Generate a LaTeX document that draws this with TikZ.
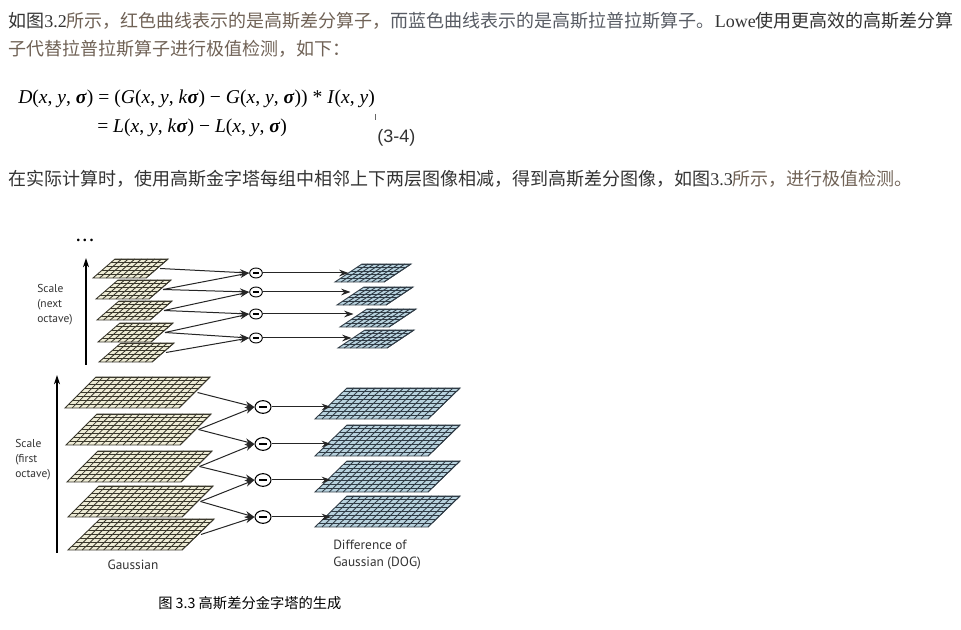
\documentclass[tikz,border=0pt]{standalone}
\usepackage{fontspec}
\setmainfont{Liberation Serif}
\newfontfamily\cjk{Noto Sans CJK SC}
\newfontfamily\lblfont{PT Sans}
\newfontfamily\numfont{Liberation Sans}
\usetikzlibrary{arrows.meta,shapes.geometric}

\definecolor{txtdark}{RGB}{51,51,51}
\definecolor{txtbrown}{RGB}{112,98,86}
\definecolor{txtgray}{RGB}{88,92,100}
\definecolor{gfill}{RGB}{238,236,214}
\definecolor{gline}{RGB}{58,56,44}
\definecolor{dfill}{RGB}{184,210,222}
\definecolor{dline}{RGB}{48,60,70}

\tikzset{
  gauss/.style={fill=gfill,draw=gline,line width=0.65pt},
  dog/.style={fill=dfill,draw=dline,line width=0.65pt},
  conn/.style={-{Stealth[length=7pt,width=5pt]},line width=0.75pt,draw=black!85},
  axisarrow/.style={-{Stealth[length=7pt,width=4.5pt]},line width=0.8pt},
  minusbig/.style={ellipse,draw,line width=0.8pt,fill=white,inner sep=0pt,
    minimum width=12pt,minimum height=9.5pt,
    path picture={\fill[black] ([xshift=-3.3pt,yshift=-1.1pt]path picture bounding box.center)
      rectangle ([xshift=3.3pt,yshift=1.1pt]path picture bounding box.center);}},
  minussmall/.style={ellipse,draw,line width=0.7pt,fill=white,inner sep=0pt,
    minimum width=9.5pt,minimum height=7.5pt,
    path picture={\fill[black] ([xshift=-2.6pt,yshift=-0.9pt]path picture bounding box.center)
      rectangle ([xshift=2.6pt,yshift=0.9pt]path picture bounding box.center);}},
  lbl/.style={font=\lblfont\fontsize{8.6}{11.25}\selectfont,align=left,text=black!80,inner sep=0pt},
  biglbl/.style={font=\lblfont\fontsize{10}{12.75}\selectfont,align=left,text=black!80,inner sep=0pt},
  bodytext/.style={anchor=base west,inner sep=0pt,font=\cjk\fontsize{13.5}{16}\selectfont}
}

% layer: name, x, y (bottom left), width, height, skew, columns, rows, style
\newcommand{\gridlayer}[9]{%
  \filldraw[#9] (#2,#3) -- ++(#4,0) -- ++(#6,-#5) -- ++(-#4,0) -- cycle;
  \foreach \i in {1,...,#7}
    \draw[#9,fill=none] ({#2+#4*\i/#7},#3) -- ++(#6,-#5);
  \foreach \j in {1,...,#8}
    \draw[#9,fill=none] ({#2+#6*\j/#8},{#3-#5*\j/#8}) -- ++(#4,0);
  \coordinate (#1e) at ({#2+#4+#6/2+3},{#3-#5/2});
  \coordinate (#1w) at ({#2+#6/2},{#3-#5/2});
}
\newcommand{\sig}{\textbf{\textit{σ}}}

\begin{document}
\begin{tikzpicture}[x=0.75pt,y=-0.75pt]
  \fill[white] (0,0) rectangle (961,630);
  \useasboundingbox (0,0) rectangle (961,630);

  % texte au-dessus de la figure
  \node[bodytext] (line1) at (8,28)
    {\color{txtdark}如图{\rmfamily 3.2}\color{txtbrown}所示，红色曲线表示的是高斯差分算子，\color{txtgray}而蓝色曲线表示的是高斯拉普拉斯算子。\color{txtdark}{\rmfamily Lowe}使用更高效的高斯差分算};
  \node[bodytext,text=txtbrown] (line2) at (8,56)
    {子代替拉普拉斯算子进行极值检测，如下：};

  \node[anchor=base west,inner sep=0pt,text=black,font=\fontsize{14.7}{17}\selectfont] (eq1) at (18,104)
    {\textit{D}(\textit{x}, \textit{y}, \sig) = (\textit{G}(\textit{x}, \textit{y}, \textit{k}\sig) − \textit{G}(\textit{x}, \textit{y}, \sig)) * \textit{I}(\textit{x}, \textit{y})};
  \node[anchor=base west,inner sep=0pt,text=black,font=\fontsize{14.7}{17}\selectfont] (eq2) at (97,133)
    {= \textit{L}(\textit{x}, \textit{y}, \textit{k}\sig) − \textit{L}(\textit{x}, \textit{y}, \sig)};
  \coordinate (tk1) at (375,114);
  \coordinate (tk2) at (375,120);
  \draw[black!60,line width=0.6pt] (tk1) -- (tk2);
  \node[anchor=base west,inner sep=0pt,text=txtdark,font=\numfont\fontsize{13.5}{16}\selectfont] (eqno) at (377,143) {(3-4)};

  \node[bodytext] (line3) at (8,186)
    {\color{txtdark}在实际计算时，使用高斯金字塔每组中相邻上下两层图像相减，得到高斯差分图像，如图{\rmfamily 3.3}\color{txtbrown}所示，进行极值检测。};

  % octave suivante
  \node[font=\bfseries\fontsize{12}{14}\selectfont] (dots) at (85,240) {.\,.\,.};
  \coordinate (ax2b) at (86,365);
  \coordinate (ax2t) at (86,258);
  \draw[axisarrow] (ax2b) -- (ax2t);
  \node[lbl,anchor=west] (scale2) at (37,305) {Scale\\(next\\octave)};

  \gridlayer{u1}{93}{278}{53}{19}{22}{8}{5}{gauss}
  \gridlayer{u2}{96}{299}{53}{19}{22}{8}{5}{gauss}
  \gridlayer{u3}{97}{320}{53}{19}{22}{8}{5}{gauss}
  \gridlayer{u4}{98}{342}{53}{19}{22}{8}{5}{gauss}
  \gridlayer{u5}{99}{362}{53}{19}{22}{8}{5}{gauss}
  \gridlayer{v1}{335}{282}{49}{18}{27}{8}{5}{dog}
  \gridlayer{v2}{337}{305}{49}{18}{27}{8}{5}{dog}
  \gridlayer{v3}{340}{327}{49}{18}{27}{8}{5}{dog}
  \gridlayer{v4}{338}{348}{49}{18}{27}{8}{5}{dog}

  \node[minussmall] (n1) at (256,273) {};
  \node[minussmall] (n2) at (256,292) {};
  \node[minussmall] (n3) at (256,314) {};
  \node[minussmall] (n4) at (256,338) {};
  \draw[conn] (u1e) -- (n1.west);
  \draw[conn] (u2e) -- (n1.west);
  \draw[conn] (u2e) -- (n2.west);
  \draw[conn] (u3e) -- (n2.west);
  \draw[conn] (u3e) -- (n3.west);
  \draw[conn] (u4e) -- (n3.west);
  \draw[conn] (u4e) -- (n4.west);
  \draw[conn] (u5e) -- (n4.west);
  \foreach \k in {1,...,4}
    \draw[conn] (n\k.east) -- (n\k.east -| v\k w);

  % premiere octave
  \coordinate (ax1b) at (57,553);
  \coordinate (ax1t) at (57,375);
  \draw[axisarrow] (ax1b) -- (ax1t);
  \node[lbl,anchor=west] (scale1) at (15,460) {Scale\\(first\\octave)};

  \gridlayer{g1}{65}{408}{114}{31}{31}{16}{8}{gauss}
  \gridlayer{g2}{66}{445}{114}{31}{31}{16}{8}{gauss}
  \gridlayer{g3}{67}{482}{114}{31}{31}{16}{8}{gauss}
  \gridlayer{g4}{68}{517}{114}{31}{31}{16}{8}{gauss}
  \gridlayer{g5}{68}{550}{114}{31}{32}{16}{8}{gauss}
  \gridlayer{d1}{315}{419}{113}{31}{32}{16}{8}{dog}
  \gridlayer{d2}{315}{456}{113}{31}{32}{16}{8}{dog}
  \gridlayer{d3}{315}{492}{113}{31}{32}{16}{8}{dog}
  \gridlayer{d4}{315}{527}{113}{31}{32}{16}{8}{dog}

  \node[minusbig] (m1) at (263,407) {};
  \node[minusbig] (m2) at (263,444) {};
  \node[minusbig] (m3) at (263,480) {};
  \node[minusbig] (m4) at (263,517) {};
  \draw[conn] (g1e) -- (m1.west);
  \draw[conn] (g2e) -- (m1.west);
  \draw[conn] (g2e) -- (m2.west);
  \draw[conn] (g3e) -- (m2.west);
  \draw[conn] (g3e) -- (m3.west);
  \draw[conn] (g4e) -- (m3.west);
  \draw[conn] (g4e) -- (m4.west);
  \draw[conn] (g5e) -- (m4.west);
  \foreach \k in {1,...,4}
    \draw[conn] (m\k.east) -- (m\k.east -| d\k w);

  \node[biglbl] (gausslbl) at (133,565) {Gaussian};
  \node[biglbl,anchor=west] (doglbl) at (333,554.5) {Difference of\\Gaussian (DOG)};

  \node[anchor=west,inner sep=0pt,text=black,font=\cjk\fontsize{10.7}{13}\selectfont] (caption) at (158,603)
    {图 3.3 高斯差分金字塔的生成};
\end{tikzpicture}
\end{document}
